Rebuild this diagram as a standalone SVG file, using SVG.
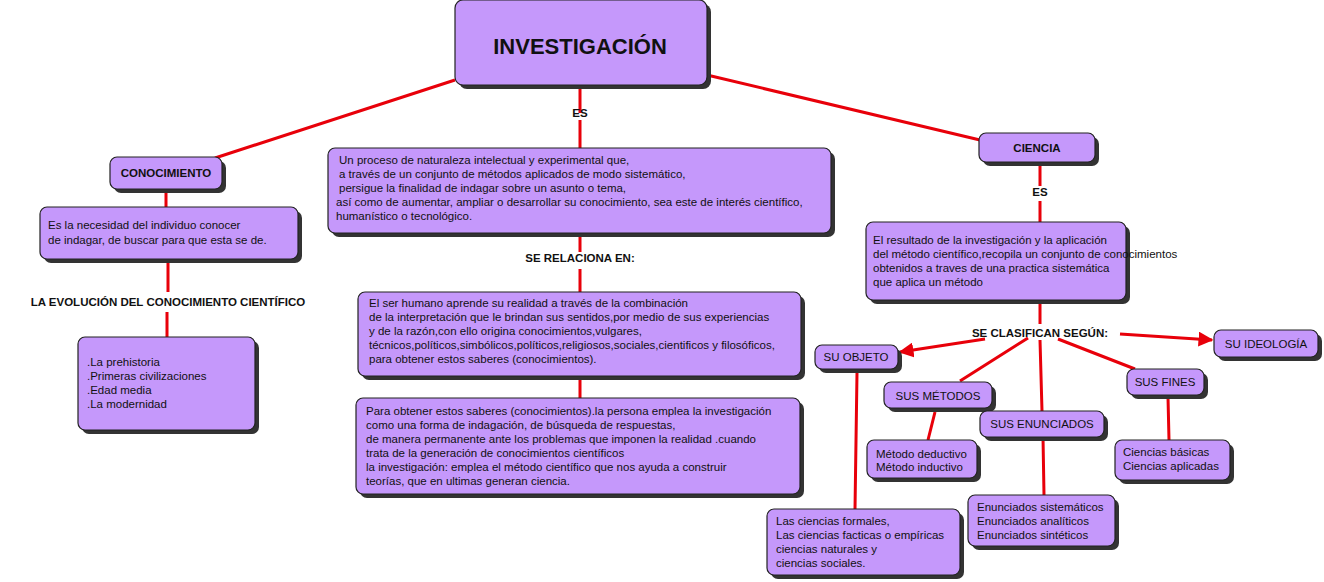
<svg xmlns="http://www.w3.org/2000/svg" width="1324" height="582" viewBox="0 0 1324 582">
<defs>
<style>
.b{fill:#c598fb;stroke:#222;stroke-width:1.2}
.s{fill:#333}
text{font-family:"Liberation Sans",Arial,sans-serif;font-size:11.5px;fill:#111}
.h{font-weight:bold;font-size:11.5px}
.c{text-anchor:middle}
.l{stroke:#e8000a;stroke-width:3;fill:none}
</style>
<marker id="a" viewBox="0 0 10 10" refX="9" refY="5" markerWidth="5" markerHeight="5" orient="auto"><path d="M0,0L10,5L0,10z" fill="#e8000a"/></marker>
</defs>
<rect width="1324" height="582" fill="#fff"/>
<g id="connectors">
<path class="l" d="M455,80L215,158M707,75L980,140M580,85V113M580,120V148M166,189V207M168,259V292M167,312V337M580,233V252M580,269V292M580,376V398M1040,162V186M1040,201V222M1040,300V324"/>
<path class="l" marker-end="url(#a)" d="M985,339L900,352"/>
<path class="l" marker-end="url(#a)" d="M1120,334L1212,340"/>
<path class="l" d="M1028,338L960,381M1040,340L1042,411M1058,339L1135,369M935,412L928,440M1168,397L1169,440M1043,437L1044,495M857,373L855,509"/>
</g>
<g id="investigacion"><rect class="s" x="459" y="4" width="252" height="85" rx="8"/><rect class="b" x="455" y="0" width="252" height="85" rx="8"/><text x="580" y="54" class="c" style="font-weight:bold;font-size:22px">INVESTIGACIÓN</text></g>
<text x="580" y="117" class="h c">ES</text>
<g id="conocimiento"><rect class="s" x="114" y="161" width="112" height="32" rx="7"/><rect class="b" x="110" y="157" width="112" height="32" rx="7"/><text x="166" y="177" class="h c">CONOCIMIENTO</text></g>
<g id="necesidad"><rect class="s" x="44" y="211" width="258" height="52" rx="7"/><rect class="b" x="40" y="207" width="258" height="52" rx="7"/><text x="48" y="229">Es la necesidad del individuo conocer</text><text x="48" y="244">de indagar, de buscar para que esta se de.</text></g>
<text x="168" y="306" class="h c">LA EVOLUCIÓN DEL CONOCIMIENTO CIENTÍFICO</text>
<g id="historia"><rect class="s" x="82" y="341" width="177" height="93" rx="7"/><rect class="b" x="78" y="337" width="177" height="93" rx="7"/><text x="87" y="366">.La prehistoria</text><text x="87" y="380">.Primeras civilizaciones</text><text x="87" y="394">.Edad media</text><text x="87" y="408">.La modernidad</text></g>
<g id="proceso"><rect class="s" x="332" y="152" width="503" height="85" rx="7"/><rect class="b" x="328" y="148" width="503" height="85" rx="7"/><text x="339" y="164">Un proceso de naturaleza intelectual y experimental que,</text><text x="339" y="178">a través de un conjunto de métodos aplicados de modo sistemático,</text><text x="339" y="192">persigue la finalidad de indagar sobre un asunto o tema,</text><text x="336" y="206">así como de aumentar, ampliar o desarrollar su conocimiento, sea este de interés científico,</text><text x="336" y="220">humanístico o tecnológico.</text></g>
<text x="580" y="262" class="h c">SE RELACIONA EN:</text>
<g id="ser"><rect class="s" x="362" y="296" width="443" height="84" rx="7"/><rect class="b" x="358" y="292" width="443" height="84" rx="7"/><text x="369" y="307">El ser humano aprende su realidad a través de la combinación</text><text x="369" y="321">de la interpretación que le brindan sus sentidos,por medio de sus experiencias</text><text x="369" y="335">y de la razón,con ello origina conocimientos,vulgares,</text><text x="369" y="349">técnicos,políticos,simbólicos,políticos,religiosos,sociales,cientificos y filosóficos,</text><text x="369" y="363">para obtener estos saberes (conocimientos).</text></g>
<g id="obtener"><rect class="s" x="360" y="402" width="444" height="96" rx="7"/><rect class="b" x="356" y="398" width="444" height="96" rx="7"/><text x="366" y="415">Para obtener estos saberes (conocimientos).la persona emplea la investigación</text><text x="366" y="429">como una forma de indagación, de búsqueda de respuestas,</text><text x="366" y="443">de manera permanente ante los problemas que imponen la realidad .cuando</text><text x="366" y="457">trata de la generación de conocimientos científicos</text><text x="366" y="471">la investigación: emplea el método científico que nos ayuda a construir</text><text x="366" y="485">teorías, que en ultimas generan ciencia.</text></g>
<g id="ciencia"><rect class="s" x="983" y="137" width="116" height="29" rx="7"/><rect class="b" x="979" y="133" width="116" height="29" rx="7"/><text x="1037" y="152" class="h c">CIENCIA</text></g>
<text x="1040" y="196" class="h c">ES</text>
<g id="resultado"><rect class="s" x="870" y="226" width="260" height="78" rx="7"/><rect class="b" x="866" y="222" width="260" height="78" rx="7"/><text x="873" y="244">El resultado de la investigación y la aplicación</text><text x="873" y="258">del método científico,recopila un conjunto de conocimientos</text><text x="873" y="272">obtenidos a traves de una practica sistemática</text><text x="873" y="286">que aplica un método</text></g>
<text x="1040" y="337" class="h c">SE CLASIFICAN SEGÚN:</text>
<g id="objeto"><rect class="s" x="819" y="349" width="83" height="24" rx="7"/><rect class="b" x="815" y="345" width="83" height="24" rx="7"/><text x="856" y="361" class="c">SU OBJETO</text></g>
<g id="ideologia"><rect class="s" x="1218" y="334" width="104" height="27" rx="7"/><rect class="b" x="1214" y="330" width="104" height="27" rx="7"/><text x="1266" y="348" class="c">SU IDEOLOGÍA</text></g>
<g id="metodos"><rect class="s" x="888" y="386" width="108" height="26" rx="7"/><rect class="b" x="884" y="382" width="108" height="26" rx="7"/><text x="938" y="400" class="c">SUS MÉTODOS</text></g>
<g id="enunciados"><rect class="s" x="984" y="415" width="124" height="26" rx="7"/><rect class="b" x="980" y="411" width="124" height="26" rx="7"/><text x="1042" y="428" class="c">SUS ENUNCIADOS</text></g>
<g id="fines"><rect class="s" x="1131" y="373" width="77" height="26" rx="7"/><rect class="b" x="1127" y="369" width="77" height="26" rx="7"/><text x="1165" y="386" class="c">SUS FINES</text></g>
<g id="metodo"><rect class="s" x="871" y="444" width="110" height="38" rx="7"/><rect class="b" x="867" y="440" width="110" height="38" rx="7"/><text x="876" y="458">Método deductivo</text><text x="876" y="471">Método inductivo</text></g>
<g id="basicas"><rect class="s" x="1119" y="444" width="115" height="40" rx="7"/><rect class="b" x="1115" y="440" width="115" height="40" rx="7"/><text x="1123" y="456">Ciencias básicas</text><text x="1123" y="470">Ciencias aplicadas</text></g>
<g id="enunc"><rect class="s" x="972" y="499" width="147" height="51" rx="7"/><rect class="b" x="968" y="495" width="147" height="51" rx="7"/><text x="977" y="511">Enunciados sistemáticos</text><text x="977" y="525">Enunciados analíticos</text><text x="977" y="539">Enunciados sintéticos</text></g>
<g id="formales"><rect class="s" x="771" y="513" width="193" height="66" rx="7"/><rect class="b" x="767" y="509" width="193" height="66" rx="7"/><text x="776" y="525">Las ciencias formales,</text><text x="776" y="539">Las ciencias facticas o empíricas</text><text x="776" y="553">ciencias naturales y</text><text x="776" y="567">ciencias sociales.</text></g>
</svg>
